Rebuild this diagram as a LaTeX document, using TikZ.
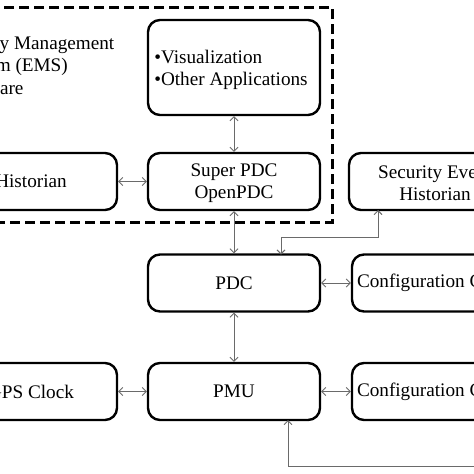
\documentclass[tikz,border=0pt]{standalone}
\usepackage{fontspec}
\setmainfont{Liberation Serif}
\usetikzlibrary{arrows.meta}
\definecolor{conn}{HTML}{6A6A6A}
\begin{document}
\begin{tikzpicture}[x=1pt,y=-1pt,
  box/.style={draw=black, line width=2.4pt, rounded corners=12pt, minimum width=172pt, minimum height=57pt, inner sep=0pt, align=center, font=\fontsize{19.2}{22.5}\selectfont},
  txt/.style={inner sep=0pt, font=\fontsize{19.2}{22.5}\selectfont},
  conn/.style={draw=conn, line width=0.9pt, {Straight Barb[length=4pt,width=8pt]}-{Straight Barb[length=4pt,width=8pt]}},
  connone/.style={draw=conn, line width=0.9pt, -{Straight Barb[length=4pt,width=8pt]}},
  emsbox/.style={draw=black, line width=3pt, dash pattern=on 10pt off 5pt}
]
\useasboundingbox (0,0) rectangle (474,474);
\clip (0,0) rectangle (474,474);
\fill[white] (0,0) rectangle (474,474);

% EMS dashed region
\draw[emsbox] (-60,7) rectangle (332,222);
\node[txt, anchor=west, align=left] (ems) at (-46,65.5) {Energy Management\\System (EMS)\\Software};

% boxes
\node[box, minimum height=95pt] (vis) at (234,67.5) {};
\node[txt, align=left] (vist) at (231,70) {•Visualization\\•Other Applications};
\node[box] (spdc) at (234,181.5) {};
\node[txt, align=center] (spdct) at (234,183) {Super PDC\\OpenPDC};
\node[box] (hist) at (31,181.5) {Historian};
\node[box] (sec) at (435,181.5) {};
\node[txt, align=center] (sect) at (435,183) {Security Event\\Historian};
\node[box] (pdc) at (234,283) {PDC};
\node[box] (cfga) at (438,283) {};
\node[txt, anchor=west] (cfgat) at ([xshift=6pt]cfga.west) {Configuration Client};
\node[box] (pmu) at (234,391.5) {PMU};
\node[box] (gps) at (31,391.5) {GPS Clock};
\node[box] (cfgb) at (438,391.5) {};
\node[txt, anchor=west] (cfgbt) at ([xshift=6pt]cfgb.west) {Configuration Client};

% connectors
\draw[conn] (vis.south) -- (spdc.north);
\draw[conn] (spdc.south) -- (pdc.north);
\draw[conn] (pdc.south) -- (pmu.north);
\draw[conn] (hist.east) -- (spdc.west);
\draw[conn] (gps.east) -- (pmu.west);
\draw[conn] (pdc.east) -- (cfga.west);
\draw[conn] (pmu.east) -- (cfgb.west);

\coordinate (secb) at (378,210);
\coordinate (pdct) at (281,254.5);
\draw[conn] (secb) -- (378,237.5) -- (281,237.5) -- (pdct);

\coordinate (pmub) at (288,420);
\coordinate (offr) at (490,466);
\draw[connone] (offr) -- (288,466) -- (pmub);
\end{tikzpicture}
\end{document}
